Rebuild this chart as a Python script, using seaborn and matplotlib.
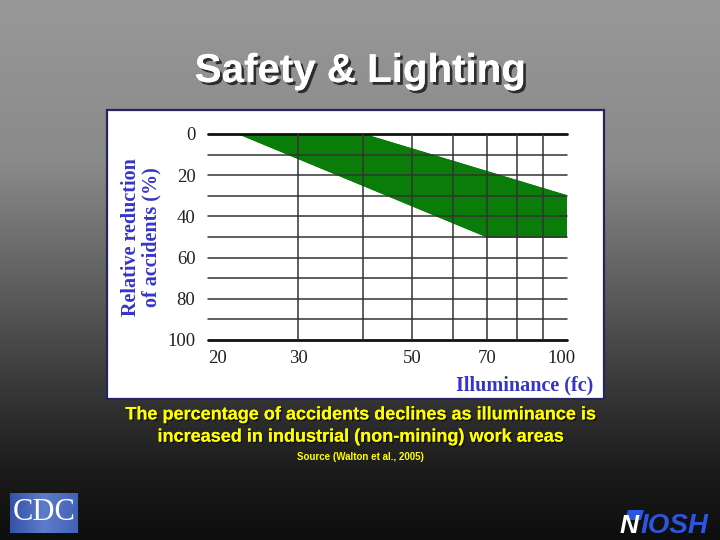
import numpy as np
import matplotlib
matplotlib.use("Agg")
import matplotlib.pyplot as plt
import matplotlib.patheffects as pe
import matplotlib.transforms as mtrans
from matplotlib.patches import Rectangle, Polygon
from matplotlib.colors import LinearSegmentedColormap
from matplotlib import font_manager as fm
import seaborn as sns

# ---- data ----
upper_x = [23, 40, 100]      # top boundary of band (smaller reduction)
upper_y = [0, 0, 30]
lower_x = [23, 70, 100]      # bottom boundary of band (larger reduction)
lower_y = [0, 50, 50]
xtick_vals = [20, 30, 50, 70, 100]
xtick_labels = ["20", "30", "50", "70", "100"]
ytick_vals = [0, 20, 40, 60, 80, 100]
hgrid = [0, 10, 20, 30, 40, 50, 60, 70, 80, 90, 100]
vgrid = [30, 40, 50, 60, 70, 80, 90]

title = "Safety & Lighting"
caption = "The percentage of accidents declines as illuminance is\nincreased in industrial (non-mining) work areas"
source = "Source (Walton et al., 2005)"
ylabel = "Relative reduction\nof accidents (%)"
xlabel = "Illuminance (fc)"

sns.set_theme(style="white")
plt.rcParams["font.family"] = ["Liberation Serif", "DejaVu Serif"]

serif_bold = fm.FontProperties(fname=fm.findfont(fm.FontProperties(family="Liberation Serif", weight="bold")))
serif_reg = fm.FontProperties(fname=fm.findfont(fm.FontProperties(family="Liberation Serif")))
sans_bold = fm.findfont(fm.FontProperties(family="Liberation Sans", weight="bold"))
sans_bi = fm.findfont(fm.FontProperties(family="Liberation Sans", weight="bold", style="italic"))

W, H = 720, 540
fig = plt.figure(figsize=(7.2, 5.4), dpi=100)

# background gradient
bg = fig.add_axes([0, 0, 1, 1], zorder=-10)
grad = np.linspace(0, 1, 512).reshape(-1, 1)
cmap = LinearSegmentedColormap.from_list(
    "bg", [(0.0, "#989898"), (0.3, "#8a8a8a"), (0.55, "#5a5a5a"),
           (0.74, "#343434"), (0.87, "#1c1c1c"), (1.0, "#0e0e0e")])
bg.imshow(grad, aspect="auto", cmap=cmap, extent=[0, 1, 0, 1], origin="upper")
bg.set_axis_off()

def fx(px):
    return px / W

def fy(py):
    return 1 - py / H

# white chart box
box = Rectangle((fx(107), fy(399)), fx(604) - fx(107), fy(110) - fy(399),
                transform=fig.transFigure, facecolor="white", edgecolor="#24245e",
                linewidth=1.6, zorder=1)
fig.patches.append(box)

ax = fig.add_axes([fx(208), fy(340), fx(567) - fx(208), fy(134) - fy(340)], zorder=5)
ax.set_facecolor("none")
ax.set_xscale("log")
ax.set_xlim(20, 100)
ax.set_ylim(100, 0)

green = "#0a7c0a"
poly_pts = list(zip(upper_x, upper_y)) + list(zip(lower_x[::-1], lower_y[::-1]))
ax.add_patch(Polygon(poly_pts, closed=True, facecolor=green, edgecolor=green, linewidth=0.8, zorder=2))
sns.lineplot(x=upper_x, y=upper_y, ax=ax, color=green, linewidth=0.8, zorder=2)
sns.lineplot(x=lower_x, y=lower_y, ax=ax, color=green, linewidth=0.8, zorder=2)

for y in hgrid:
    if y in (0, 100):
        ax.axhline(y, color="#111111", linewidth=2.0, zorder=4, clip_on=False)
    else:
        ax.axhline(y, color="#333333", linewidth=1.1, zorder=4, clip_on=False)
for x in vgrid:
    ax.axvline(x, color="#333333", linewidth=1.1, zorder=4)

for s in ax.spines.values():
    s.set_visible(False)
ax.grid(False)
ax.set_xticks(xtick_vals)
ax.set_xticklabels(xtick_labels)
ax.xaxis.set_minor_locator(matplotlib.ticker.NullLocator())
ax.set_yticks(ytick_vals)
ax.set_yticklabels([str(v) for v in ytick_vals])
ax.tick_params(axis="both", length=0, labelsize=13.5, colors="#222222")
ax.tick_params(axis="y", pad=9)
ax.tick_params(axis="x", pad=7)
xl = ax.get_xticklabels()
xl[0].set_horizontalalignment("left")
xl[-1].set_transform(xl[-1].get_transform() + mtrans.ScaledTranslation(-6 / 100, 0, fig.dpi_scale_trans))

fp_y = serif_bold.copy(); fp_y.set_size(14.5)
ax.set_ylabel(ylabel, fontproperties=fp_y, color="#3535c8", labelpad=4, linespacing=1.05)
fp_x = serif_bold.copy(); fp_x.set_size(14.5)
fig.text(fx(525), fy(385), xlabel, fontproperties=fp_x, color="#3535c8",
         ha="center", va="center", zorder=6)

shadow = [pe.withSimplePatchShadow(offset=(2, -2), shadow_rgbFace="#222222", alpha=0.9), pe.Normal()]
fig.text(0.5, fy(71), title, fontproperties=fm.FontProperties(fname=sans_bold, size=29),
         color="white", ha="center", va="center", path_effects=shadow)
shadow2 = [pe.withSimplePatchShadow(offset=(1.2, -1.2), shadow_rgbFace="#111111", alpha=0.9), pe.Normal()]
fig.text(0.5, fy(426), caption, fontproperties=fm.FontProperties(fname=sans_bold, size=13),
         color="#ffff00", ha="center", va="center", linespacing=1.4, path_effects=shadow2)
fig.text(0.5, fy(457), source, fontproperties=fm.FontProperties(fname=sans_bold, size=7),
         color="#ffff00", ha="center", va="center")

# CDC logo
cdc_ax = fig.add_axes([fx(10), fy(533), fx(78) - fx(10), fy(493) - fy(533)], zorder=6)
lg = np.linspace(0, 1, 64).reshape(1, -1)
cdc_cmap = LinearSegmentedColormap.from_list("cdc", ["#3552a8", "#5d7cc8", "#4262b8"])
cdc_ax.imshow(lg, aspect="auto", cmap=cdc_cmap, extent=[0, 1, 0, 1])
cdc_ax.set_axis_off()
fp_c = serif_reg.copy(); fp_c.set_size(22)
fig.text(fx(44), fy(513), "CDC", fontproperties=fp_c, color="white", ha="center", va="center", zorder=7)

# NIOSH logo
niosh_blue = "#2c55e0"
par = Polygon([(fx(628), fy(510)), (fx(644), fy(510)), (fx(641), fy(520)), (fx(625), fy(520))],
              closed=True, transform=fig.transFigure, facecolor=niosh_blue, edgecolor="none", zorder=6)
fig.patches.append(par)
fig.text(fx(620), fy(526), "N", fontproperties=fm.FontProperties(fname=sans_bi, size=19),
         color="white", ha="left", va="center", zorder=7)
fig.text(fx(641), fy(526), "IOSH", fontproperties=fm.FontProperties(fname=sans_bi, size=20),
         color=niosh_blue, ha="left", va="center", zorder=7)

fig.savefig("out.png", dpi=100)
